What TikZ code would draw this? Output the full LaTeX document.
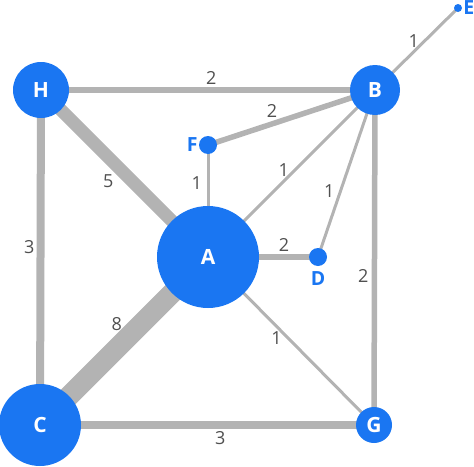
\documentclass[tikz,border=0pt]{standalone}
\usepackage{fontspec}
\setmainfont{Open Sans}
\usetikzlibrary{backgrounds}

\definecolor{nodeblue}{HTML}{1A76F2}
\definecolor{edgegray}{HTML}{B3B3B3}
\definecolor{wgray}{HTML}{505050}

\begin{document}
\begin{tikzpicture}[x=1pt, y=-1pt,
  vtx/.style={circle, fill=nodeblue, inner sep=0pt, minimum size=#1, text=white, font=\fontsize{21}{21}\selectfont\bfseries},
  smalldot/.style={circle, fill=nodeblue, inner sep=0pt, minimum size=#1},
  tag/.style={text=nodeblue, font=\fontsize{19.5}{20}\selectfont\bfseries, inner sep=0pt},
  wt/.style={draw=edgegray, line width={(0.5+2.5*#1)*1pt}},
  num/.style={text=wgray, font=\fontsize{18}{18}\selectfont, inner sep=6pt, outer sep=0pt}]
  \useasboundingbox (0,0) rectangle (474,466);

  % big vertices
  \node[vtx=56] (H) at (41,90) {H};
  \node[vtx=50] (B) at (375,90) {B};
  \node[vtx=102] (A) at (208,257) {A};
  \node[vtx=82] (C) at (40,425) {C};
  \node[vtx=36] (G) at (374,425) {G};

  % small vertices, named outside
  \node[smalldot=18, label={[tag, label distance=1pt]left:F}] (F) at (208,145) {};
  \node[smalldot=18, label={[tag, label distance=5pt]below:D}] (D) at (318,257) {};
  \node[smalldot=8, label={[tag, label distance=1pt]right:E}] (E) at (458,8) {};

  \begin{scope}[on background layer]
    % square frame
    \draw[wt=2] (H.center) -- node[num, above, pos=.51] {2} (B.center);
    \draw[wt=3] (H.center) -- node[num, left, pos=.47] {3} (C.center);
    \draw[wt=3] (C.center) -- node[num, below, pos=.54] {3} (G.center);
    \draw[wt=2] (B.center) -- node[num, left, pos=.555] {2} (G.center);

    % heavy diagonals
    \draw[wt=5] (H.center) -- node[num, below left, pos=.47] {5} (A.center);
    \draw[wt=8] (A.center) -- node[num, above left, pos=.477] {8} (C.center);

    % around A
    \draw[wt=1] (A.center) -- node[num, left, pos=.656] {1} (F.center);
    \draw[wt=2] (A.center) -- node[num, above, pos=.69] {2} (D.center);
    \draw[wt=1] (A.center) -- node[num, left, pos=.48] {1} (G.center);

    % out of B
    \draw[wt=1] (B.center) -- node[num, left, pos=.48] {1} (A.center);
    \draw[wt=2] (B.center) -- node[num, above, pos=.616] {2} (F.center);
    \draw[wt=1] (B.center) -- node[num, left, pos=.605] {1} (D.center);
    \draw[wt=1] (B.center) -- node[num, left, pos=.6] {1} (E.center);
  \end{scope}
\end{tikzpicture}
\end{document}
